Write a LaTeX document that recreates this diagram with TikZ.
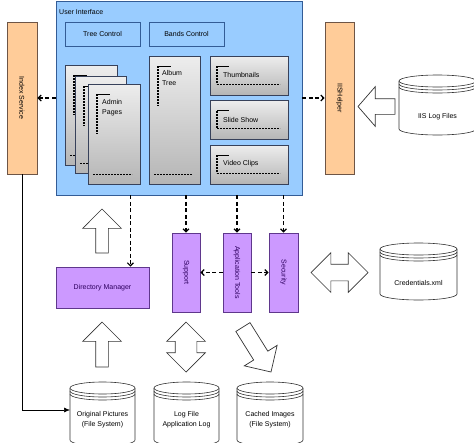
\documentclass[tikz,border=0pt]{standalone}
\usepackage{fontspec}
\setmainfont{Liberation Sans}
\usepackage{graphicx}
\usetikzlibrary{arrows.meta,shapes.arrows}

\definecolor{uifill}{RGB}{153,204,255}
\definecolor{uiline}{RGB}{51,92,150}
\definecolor{pageline}{RGB}{55,65,90}
\definecolor{orangefill}{RGB}{255,204,153}
\definecolor{orangeline}{RGB}{110,85,70}
\definecolor{purplefill}{RGB}{204,153,255}
\definecolor{purpleline}{RGB}{95,55,140}
\definecolor{purpletext}{RGB}{45,0,95}

\tikzset{
  uibox/.style={draw=uiline, fill=uifill, line width=0.8pt},
  page/.style={draw=pageline, line width=0.8pt, top color=gray!14, bottom color=gray!58},
  orangebox/.style={draw=orangeline, fill=orangefill, line width=0.8pt, minimum width=30, minimum height=152},
  purplebox/.style={draw=purpleline, fill=purplefill, line width=0.8pt, text=purpletext},
  lbl/.style={inner sep=0pt, align=left},
  icondash/.style={line width=1.2pt, dash pattern=on 2pt off 1pt},
  bottomdash/.style={line width=0.8pt, dash pattern=on 2pt off 1pt},
  dashline/.style={line width=1.2pt, dash pattern=on 4pt off 2.5pt, -{Straight Barb[length=3pt,width=6pt]}},
  solidline/.style={line width=0.6pt, -{Latex[length=6pt,width=5pt]}},
  hollow/.style={single arrow, draw=black!80, fill=white, line width=0.7pt, inner xsep=0pt, outer sep=0pt, single arrow tip angle=90},
  hollowtwo/.style={double arrow, draw=black!80, fill=white, line width=0.7pt, inner xsep=0pt, outer sep=0pt, double arrow tip angle=90},
  cyl/.style={draw=black!80, fill=white, line width=0.6pt}
}

\begin{document}
\begin{tikzpicture}[x=1pt, y=-1pt, font=\fontsize{7}{10}\selectfont]
    \useasboundingbox (0,0) rectangle (474,442);
    \clip (0,0) rectangle (474,442);

    % User interface frame
    \node[uibox, minimum width=246, minimum height=194] (ui) at (179,98) {};
    \node[lbl, anchor=west] (uilabel) at (59,12) {User Interface};
    \node[uibox, minimum width=75, minimum height=24] (treectl) at (102.5,34) {Tree Control};
    \node[uibox, minimum width=75, minimum height=24] (bandsctl) at (186.5,34) {Bands Control};

    % Pages
    \foreach \nm/\xa/\ya/\xb/\yb in {admin1/65/65/117/165, admin2/75/76/126/173, admin3/88/84/140/184, album/149/56/200/184} {
        \node[page, minimum width=\xb-\xa, minimum height=\yb-\ya] (\nm) at ({(\xa+\xb)/2},{(\ya+\yb)/2}) {};
        \draw[line width=0.7pt] (\xa+9,\ya+10) -- (\xa+22,\ya+10);
        \draw[icondash] (\xa+9,\ya+10) -- (\xa+9,\ya+50);
        \draw[bottomdash] (\xa+5,\yb-10) -- (\xb-8,\yb-10);
    }
    \node[lbl, anchor=north west] (admintext) at (102,99.5) {Admin\\Pages};
    \node[lbl, anchor=north west] (albumtext) at (162,70.5) {Album\\Tree};

    % Media boxes
    \foreach \nm/\ya/\txt in {thumbs/56/Thumbnails, slides/100.5/Slide Show, videos/145/Video Clips} {
        \node[page, minimum width=78, minimum height=39] (\nm) at (249,\ya+19.5) {};
        \draw[line width=0.7pt] (217,\ya+10) -- (229,\ya+10);
        \draw[icondash] (217,\ya+10) -- (217,\ya+28);
        \draw[bottomdash] (217,\ya+28) -- (280,\ya+28);
        \node[lbl, anchor=west] at (223,\ya+19) {\txt};
    }

    % Services
    \node[orangebox] (idx) at (22,98) {\rotatebox{-90}{Index Service}};
    \node[orangebox, minimum width=29] (iish) at (339.5,98) {\rotatebox{-90}{IISHelper}};

    \node[purplebox, minimum width=93, minimum height=41] (dirmgr) at (102.5,287.5) {Directory Manager};
    \node[purplebox, minimum width=28, minimum height=79] (support) at (186,272.5) {\rotatebox{-90}{Support}};
    \node[purplebox, minimum width=28, minimum height=79] (apptools) at (237,272.5) {\rotatebox{-90}{Application Tools}};
    \node[purplebox, minimum width=29, minimum height=79] (security) at (283.5,272.5) {\rotatebox{-90}{Security}};

    % Data stores
    \foreach \nm/\cx/\ty/\by/\w/\txt/\tyy in {iislog/437.5/75/135/77/{IIS Log Files}/117,
        cred/418.5/243/300/77/{Credentials.xml}/283,
        origpic/102.5/382/446/65/{Original Pictures\\(File System)}/420,
        logfile/186.5/382/446/65/{Log File\\Application Log}/420,
        cached/270/382/446/66/{Cached Images\\(File System)}/420} {
        \draw[cyl] (\cx-\w/2,\ty+6) -- (\cx-\w/2,\by-6)
            arc[start angle=180, end angle=0, x radius=\w/2, y radius=6]
            -- (\cx+\w/2,\ty+6)
            arc[start angle=0, end angle=-180, x radius=\w/2, y radius=6] -- cycle;
        \draw[cyl] (\cx-\w/2,\ty+6) arc[start angle=180, end angle=0, x radius=\w/2, y radius=6];
        \draw[cyl, fill=none] (\cx-\w/2,\ty+9) arc[start angle=180, end angle=0, x radius=\w/2, y radius=6];
        \draw[cyl, fill=none] (\cx-\w/2,\ty+12) arc[start angle=180, end angle=0, x radius=\w/2, y radius=6];
        \node[align=center, inner sep=0pt] (\nm) at (\cx,\tyy) {\txt};
        \coordinate (\nm-w) at (\cx-\w/2,\ty+28);
    }

    % Dashed dependencies
    \draw[dashline] (ui.west) -- (idx.east);
    \draw[dashline] (ui.east) -- (iish.west);
    \coordinate (dmin) at ([xshift=-19pt]dirmgr.north east);
    \draw[dashline] (ui.south -| dmin) -- (dmin);
    \draw[dashline] (ui.south -| support.north) -- (support.north);
    \draw[dashline] (ui.south -| apptools.north) -- (apptools.north);
    \draw[dashline] (ui.south -| security.north) -- (security.north);
    \draw[dashline] (apptools.west) -- (support.east);
    \draw[dashline] (apptools.east) -- (security.west);

    % Index service to pictures
    \draw[solidline] (idx.south) |- (origpic-w);

    % Hollow arrows
    \node[hollow, rotate=90, anchor=tip, minimum height=44, minimum width=38, inner ysep=6pt, single arrow head extend=13pt] (upone) at (102,209) {};
    \node[hollow, rotate=90, anchor=tip, minimum height=45, minimum width=38, inner ysep=6pt, single arrow head extend=13pt] (uptwo) at (102,322) {};
    \node[hollow, rotate=180, anchor=tip, minimum height=37, minimum width=39, inner ysep=7.5pt, single arrow head extend=12pt, single arrow tip angle=98] (iisarrow) at (358,106.5) {};
    \node[hollow, rotate=-58, anchor=tip, minimum height=53, minimum width=38, inner ysep=8pt, single arrow head extend=11pt] (cachearrow) at (271,372) {};
    \node[hollowtwo, rotate=90, minimum height=50, minimum width=38, inner ysep=10.5pt, double arrow head extend=8.5pt] (logarrow) at (186,347) {};
    \node[hollowtwo, minimum height=57, minimum width=39, inner ysep=8pt, double arrow head extend=11.5pt] (credarrow) at (339.5,272.5) {};
\end{tikzpicture}
\end{document}
